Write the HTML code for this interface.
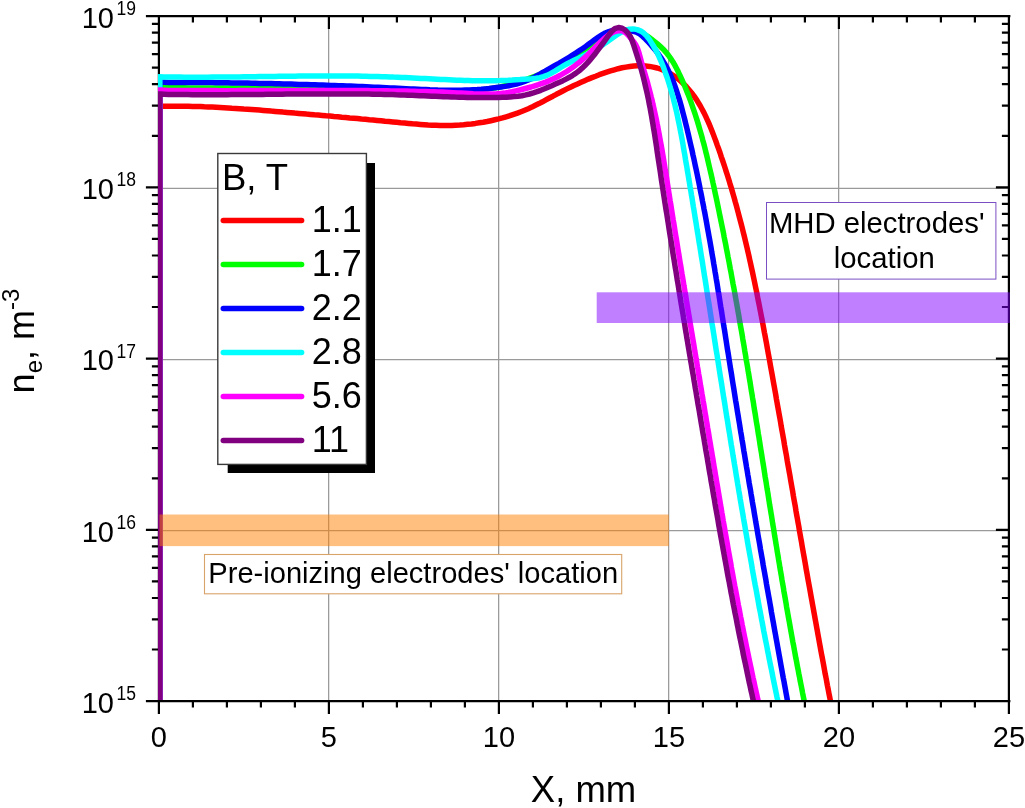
<!DOCTYPE html><html><head><meta charset="utf-8"><style>html,body{margin:0;padding:0;background:#fff;}svg{display:block;}text{font-family:"Liberation Sans",Arial,sans-serif;fill:#000;}</style></head><body>
<svg width="1025" height="808" viewBox="0 0 1025 808">
<rect width="1025" height="808" fill="#fff"/>
<path d="M328.65,16.1 V701.1 M498.65,16.1 V701.1 M668.65,16.1 V701.1 M838.65,16.1 V701.1 M158.9,188.30 H1008.9 M158.9,359.50 H1008.9 M158.9,530.50 H1008.9" stroke="#9a9a9a" stroke-width="1.25" fill="none"/>
<path d="M145.9,16.1 H1010.4 M157.9,701.1 H1010.4 M158.9,15.1 V714.1 M1008.9,15.1 V714.1 M158.9,701.1 V714.1 M158.9,16.1 V29.1 M192.9,701.1 V707.6 M192.9,16.1 V22.6 M226.9,701.1 V707.6 M226.9,16.1 V22.6 M260.9,701.1 V707.6 M260.9,16.1 V22.6 M294.9,701.1 V707.6 M294.9,16.1 V22.6 M328.9,701.1 V714.1 M328.9,16.1 V29.1 M362.9,701.1 V707.6 M362.9,16.1 V22.6 M396.9,701.1 V707.6 M396.9,16.1 V22.6 M430.9,701.1 V707.6 M430.9,16.1 V22.6 M464.9,701.1 V707.6 M464.9,16.1 V22.6 M498.9,701.1 V714.1 M498.9,16.1 V29.1 M532.9,701.1 V707.6 M532.9,16.1 V22.6 M566.9,701.1 V707.6 M566.9,16.1 V22.6 M600.9,701.1 V707.6 M600.9,16.1 V22.6 M634.9,701.1 V707.6 M634.9,16.1 V22.6 M668.9,701.1 V714.1 M668.9,16.1 V29.1 M702.9,701.1 V707.6 M702.9,16.1 V22.6 M736.9,701.1 V707.6 M736.9,16.1 V22.6 M770.9,701.1 V707.6 M770.9,16.1 V22.6 M804.9,701.1 V707.6 M804.9,16.1 V22.6 M838.9,701.1 V714.1 M838.9,16.1 V29.1 M872.9,701.1 V707.6 M872.9,16.1 V22.6 M906.9,701.1 V707.6 M906.9,16.1 V22.6 M940.9,701.1 V707.6 M940.9,16.1 V22.6 M974.9,701.1 V707.6 M974.9,16.1 V22.6 M1008.9,701.1 V714.1 M1008.9,16.1 V29.1 M158.9,701.1 H145.9 M1008.9,701.1 H995.9 M158.9,649.5 H151.9 M1008.9,649.5 H1001.9 M158.9,619.4 H151.9 M1008.9,619.4 H1001.9 M158.9,598.0 H151.9 M1008.9,598.0 H1001.9 M158.9,581.4 H151.9 M1008.9,581.4 H1001.9 M158.9,567.8 H151.9 M1008.9,567.8 H1001.9 M158.9,556.4 H151.9 M1008.9,556.4 H1001.9 M158.9,546.4 H151.9 M1008.9,546.4 H1001.9 M158.9,537.7 H151.9 M1008.9,537.7 H1001.9 M158.9,529.9 H145.9 M1008.9,529.9 H995.9 M158.9,478.3 H151.9 M1008.9,478.3 H1001.9 M158.9,448.1 H151.9 M1008.9,448.1 H1001.9 M158.9,426.7 H151.9 M1008.9,426.7 H1001.9 M158.9,410.2 H151.9 M1008.9,410.2 H1001.9 M158.9,396.6 H151.9 M1008.9,396.6 H1001.9 M158.9,385.1 H151.9 M1008.9,385.1 H1001.9 M158.9,375.2 H151.9 M1008.9,375.2 H1001.9 M158.9,366.4 H151.9 M1008.9,366.4 H1001.9 M158.9,358.6 H145.9 M1008.9,358.6 H995.9 M158.9,307.0 H151.9 M1008.9,307.0 H1001.9 M158.9,276.9 H151.9 M1008.9,276.9 H1001.9 M158.9,255.5 H151.9 M1008.9,255.5 H1001.9 M158.9,238.9 H151.9 M1008.9,238.9 H1001.9 M158.9,225.3 H151.9 M1008.9,225.3 H1001.9 M158.9,213.9 H151.9 M1008.9,213.9 H1001.9 M158.9,203.9 H151.9 M1008.9,203.9 H1001.9 M158.9,195.2 H151.9 M1008.9,195.2 H1001.9 M158.9,187.3 H145.9 M1008.9,187.3 H995.9 M158.9,135.8 H151.9 M1008.9,135.8 H1001.9 M158.9,105.6 H151.9 M1008.9,105.6 H1001.9 M158.9,84.2 H151.9 M1008.9,84.2 H1001.9 M158.9,67.7 H151.9 M1008.9,67.7 H1001.9 M158.9,54.1 H151.9 M1008.9,54.1 H1001.9 M158.9,42.6 H151.9 M1008.9,42.6 H1001.9 M158.9,32.7 H151.9 M1008.9,32.7 H1001.9 M158.9,23.9 H151.9 M1008.9,23.9 H1001.9" stroke="#000" stroke-width="2.2" fill="none"/>
<defs><clipPath id="pc"><rect x="150" y="16.1" width="858.9" height="684.0"/></clipPath></defs>
<g fill="none" stroke-width="5.5" stroke-linejoin="round" stroke-linecap="butt" clip-path="url(#pc)">
<path d="M160.3,705 V103.5" stroke="#ff0000" stroke-width="4.6"/>
<path d="M158.0,106.3 L161.0,106.3 164.9,106.2 168.9,106.2 172.8,106.2 176.8,106.2 180.7,106.2 184.6,106.3 188.6,106.3 192.5,106.4 196.5,106.5 200.4,106.6 204.3,106.8 208.3,106.9 212.2,107.1 216.1,107.3 220.1,107.5 224.0,107.7 227.9,107.9 231.9,108.2 235.8,108.4 239.7,108.7 243.7,109.0 247.6,109.2 251.5,109.5 255.5,109.8 259.4,110.1 263.3,110.4 267.2,110.7 271.2,111.1 275.1,111.4 279.0,111.7 283.0,112.1 286.9,112.4 290.8,112.7 294.7,113.1 298.7,113.4 302.6,113.7 306.5,114.1 310.4,114.4 314.3,114.8 318.3,115.1 322.2,115.4 326.1,115.8 330.0,116.1 334.0,116.5 337.9,116.8 341.8,117.2 345.7,117.5 349.7,117.9 353.6,118.2 357.5,118.6 361.4,119.0 365.3,119.3 369.3,119.7 373.2,120.0 377.1,120.4 381.0,120.8 385.0,121.2 388.9,121.5 392.8,121.9 396.7,122.3 400.6,122.7 404.6,123.0 408.5,123.4 412.4,123.8 416.3,124.1 420.3,124.4 424.2,124.7 428.1,125.0 432.1,125.2 436.0,125.3 440.0,125.4 443.9,125.5 447.9,125.5 451.8,125.4 455.7,125.2 459.7,125.0 463.6,124.7 467.6,124.3 471.5,123.9 475.4,123.4 479.3,122.8 483.2,122.2 487.1,121.5 490.9,120.7 494.8,119.8 498.6,118.9 502.4,117.9 506.2,116.8 509.9,115.7 513.7,114.4 517.4,113.1 521.0,111.7 524.7,110.2 528.3,108.7 531.9,107.1 535.4,105.3 539.0,103.6 542.5,101.8 545.9,99.9 549.4,98.0 552.9,96.2 556.4,94.3 559.9,92.5 563.3,90.7 566.9,88.9 570.4,87.2 573.9,85.5 577.5,83.9 581.1,82.3 584.7,80.7 588.3,79.1 591.9,77.6 595.6,76.2 599.3,74.7 603.0,73.4 606.7,72.1 610.5,70.9 614.3,69.8 618.2,68.7 622.0,67.8 625.9,67.1 629.8,66.5 633.8,66.0 637.7,65.8 641.7,65.8 645.6,66.0 649.5,66.4 653.3,67.1 657.1,68.0 660.9,69.2 664.5,70.6 668.0,72.3 671.4,74.2 674.6,76.3 677.8,78.7 680.8,81.2 683.7,83.9 686.4,86.7 689.0,89.7 691.5,92.7 693.9,95.9 696.1,99.1 698.2,102.4 700.2,105.7 702.1,109.2 703.9,112.6 705.6,116.2 707.3,119.8 708.9,123.4 710.4,127.0 711.9,130.7 713.3,134.4 714.7,138.1 716.1,141.8 717.4,145.6 718.8,149.3 720.1,153.0 721.3,156.8 722.6,160.5 723.9,164.3 725.1,168.0 726.3,171.8 727.5,175.5 728.7,179.3 729.8,183.1 731.0,186.9 732.1,190.6 733.2,194.4 734.3,198.2 735.3,202.0 736.4,205.8 737.4,209.6 738.4,213.4 739.4,217.2 740.4,221.0 741.4,224.8 742.4,228.6 743.3,232.4 744.3,236.3 745.2,240.1 746.1,243.9 747.0,247.7 747.9,251.6 748.8,255.4 749.6,259.2 750.5,263.1 751.3,266.9 752.2,270.8 753.0,274.6 753.8,278.5 754.6,282.3 755.4,286.2 756.2,290.0 757.0,293.9 757.7,297.7 758.5,301.6 759.3,305.5 760.0,309.3 760.8,313.2 761.5,317.0 762.3,320.9 763.0,324.8 763.7,328.6 764.4,332.5 765.2,336.4 765.9,340.3 766.6,344.1 767.3,348.0 768.0,351.9 768.7,355.8 769.4,359.6 770.1,363.5 770.8,367.4 771.5,371.3 772.2,375.1 772.9,379.0 773.6,382.9 774.3,386.8 775.0,390.7 775.7,394.5 776.3,398.4 777.0,402.3 777.7,406.2 778.4,410.1 779.1,413.9 779.8,417.8 780.5,421.7 781.1,425.6 781.8,429.5 782.5,433.3 783.2,437.2 783.9,441.1 784.5,445.0 785.2,448.9 785.9,452.8 786.6,456.6 787.2,460.5 787.9,464.4 788.6,468.3 789.3,472.2 790.0,476.1 790.6,479.9 791.3,483.8 792.0,487.7 792.7,491.6 793.3,495.5 794.0,499.4 794.7,503.2 795.4,507.1 796.0,511.0 796.7,514.9 797.4,518.8 798.1,522.7 798.8,526.5 799.4,530.4 800.1,534.3 800.8,538.2 801.5,542.1 802.1,545.9 802.8,549.8 803.5,553.7 804.2,557.6 804.9,561.5 805.6,565.4 806.2,569.2 806.9,573.1 807.6,577.0 808.3,580.9 809.0,584.8 809.7,588.6 810.4,592.5 811.1,596.4 811.8,600.3 812.5,604.2 813.2,608.0 813.9,611.9 814.6,615.8 815.3,619.7 816.0,623.5 816.7,627.4 817.4,631.3 818.1,635.2 818.8,639.0 819.5,642.9 820.2,646.8 820.9,650.7 821.6,654.5 822.4,658.4 823.1,662.3 823.8,666.1 824.5,670.0 825.2,673.9 826.0,677.8 826.7,681.6 827.4,685.5 828.2,689.4 828.9,693.2 829.7,697.1 830.4,701.0" stroke="#ff0000"/>
<path d="M160.3,705 V84.7" stroke="#00ff00" stroke-width="4.6"/>
<path d="M158.0,87.4 L160.5,87.4 164.5,87.5 168.5,87.6 172.5,87.7 176.5,87.7 180.5,87.8 184.5,87.8 188.5,87.9 192.5,87.9 196.5,87.9 200.5,87.9 204.5,87.9 208.4,87.9 212.4,87.9 216.4,87.9 220.4,87.9 224.4,87.9 228.4,87.9 232.4,87.9 236.4,87.9 240.3,87.9 244.3,87.8 248.3,87.8 252.3,87.8 256.3,87.8 260.2,87.7 264.2,87.7 268.2,87.7 272.2,87.6 276.2,87.6 280.1,87.6 284.1,87.6 288.1,87.5 292.1,87.5 296.1,87.5 300.0,87.5 304.0,87.5 308.0,87.5 312.0,87.5 316.0,87.5 319.9,87.5 323.9,87.5 327.9,87.5 331.9,87.5 335.9,87.6 339.9,87.6 343.8,87.7 347.8,87.7 351.8,87.8 355.8,87.8 359.8,87.9 363.8,88.0 367.8,88.1 371.8,88.2 375.8,88.3 379.8,88.4 383.8,88.5 387.8,88.7 391.8,88.8 395.8,89.0 399.8,89.2 403.8,89.4 407.8,89.6 411.8,89.8 415.8,90.0 419.8,90.2 423.8,90.4 427.8,90.6 431.8,90.7 435.8,90.9 439.8,91.0 443.8,91.1 447.8,91.1 451.8,91.2 455.8,91.1 459.8,91.1 463.8,91.0 467.7,90.8 471.7,90.6 475.6,90.3 479.6,89.9 483.5,89.5 487.4,89.0 491.4,88.4 495.3,87.8 499.2,87.1 503.0,86.2 506.9,85.3 510.8,84.3 514.6,83.2 518.5,82.0 522.3,80.8 526.1,79.5 529.9,78.1 533.6,76.7 537.4,75.3 541.1,73.8 544.9,72.4 548.5,70.8 552.2,69.2 555.8,67.6 559.4,65.9 562.9,64.0 566.4,62.1 569.7,60.0 573.1,57.8 576.4,55.6 579.6,53.3 582.8,50.9 586.1,48.5 589.3,46.1 592.6,43.8 595.9,41.5 599.2,39.4 602.6,37.3 606.1,35.5 609.7,33.9 613.4,32.5 617.3,31.5 621.2,30.7 625.3,30.4 629.3,30.4 633.3,30.7 637.2,31.5 640.9,32.7 644.5,34.4 647.9,36.5 651.2,38.9 654.3,41.3 657.4,43.8 660.4,46.5 663.2,49.2 665.8,52.1 668.3,55.2 670.6,58.4 672.8,61.7 674.8,65.2 676.7,68.7 678.5,72.3 680.2,75.9 681.9,79.6 683.5,83.3 685.1,86.9 686.6,90.7 688.1,94.4 689.5,98.1 690.9,101.9 692.2,105.6 693.5,109.4 694.8,113.2 696.0,116.9 697.2,120.7 698.4,124.6 699.5,128.4 700.6,132.2 701.7,136.0 702.7,139.9 703.8,143.7 704.8,147.6 705.7,151.5 706.7,155.3 707.6,159.2 708.5,163.1 709.4,167.0 710.3,170.8 711.2,174.7 712.1,178.6 712.9,182.5 713.8,186.4 714.6,190.3 715.4,194.2 716.3,198.1 717.1,202.0 717.9,205.9 718.7,209.8 719.5,213.7 720.3,217.6 721.1,221.6 721.9,225.5 722.7,229.4 723.5,233.3 724.2,237.2 725.0,241.1 725.8,245.0 726.5,248.9 727.3,252.9 728.0,256.8 728.8,260.7 729.5,264.6 730.2,268.5 731.0,272.4 731.7,276.4 732.4,280.3 733.1,284.2 733.9,288.1 734.6,292.1 735.3,296.0 736.0,299.9 736.7,303.8 737.4,307.8 738.1,311.7 738.8,315.6 739.4,319.5 740.1,323.5 740.8,327.4 741.5,331.3 742.2,335.3 742.8,339.2 743.5,343.1 744.2,347.1 744.8,351.0 745.5,354.9 746.1,358.9 746.8,362.8 747.5,366.7 748.1,370.7 748.8,374.6 749.4,378.5 750.1,382.5 750.7,386.4 751.3,390.3 752.0,394.3 752.6,398.2 753.3,402.1 753.9,406.1 754.5,410.0 755.2,414.0 755.8,417.9 756.4,421.8 757.1,425.8 757.7,429.7 758.3,433.7 759.0,437.6 759.6,441.5 760.2,445.5 760.8,449.4 761.5,453.4 762.1,457.3 762.7,461.2 763.4,465.2 764.0,469.1 764.6,473.1 765.2,477.0 765.9,480.9 766.5,484.9 767.1,488.8 767.8,492.7 768.4,496.7 769.0,500.6 769.6,504.6 770.3,508.5 770.9,512.4 771.6,516.4 772.2,520.3 772.8,524.3 773.5,528.2 774.1,532.1 774.7,536.1 775.4,540.0 776.0,543.9 776.7,547.9 777.3,551.8 778.0,555.8 778.6,559.7 779.3,563.6 779.9,567.6 780.6,571.5 781.3,575.4 781.9,579.4 782.6,583.3 783.3,587.2 783.9,591.2 784.6,595.1 785.3,599.0 786.0,602.9 786.6,606.9 787.3,610.8 788.0,614.7 788.7,618.7 789.4,622.6 790.1,626.5 790.8,630.4 791.5,634.4 792.2,638.3 792.9,642.2 793.7,646.1 794.4,650.1 795.1,654.0 795.8,657.9 796.6,661.8 797.3,665.7 798.1,669.7 798.8,673.6 799.6,677.5 800.3,681.4 801.1,685.3 801.9,689.2 802.6,693.1 803.4,697.0 804.2,701.0" stroke="#00ff00"/>
<path d="M160.3,705 V79.6" stroke="#0000ff" stroke-width="4.6"/>
<path d="M158.0,82.3 L160.5,82.3 164.5,82.3 168.4,82.4 172.4,82.4 176.4,82.4 180.3,82.4 184.3,82.4 188.3,82.4 192.2,82.4 196.2,82.5 200.1,82.5 204.1,82.5 208.1,82.6 212.0,82.6 216.0,82.7 220.0,82.7 223.9,82.8 227.9,82.8 231.8,82.9 235.8,82.9 239.7,83.0 243.7,83.1 247.7,83.1 251.6,83.2 255.6,83.3 259.5,83.4 263.5,83.5 267.5,83.5 271.4,83.6 275.4,83.7 279.3,83.8 283.3,83.9 287.2,84.0 291.2,84.1 295.1,84.2 299.1,84.4 303.1,84.5 307.0,84.6 311.0,84.7 314.9,84.8 318.9,85.0 322.8,85.1 326.8,85.2 330.8,85.4 334.7,85.5 338.7,85.7 342.6,85.8 346.6,86.0 350.5,86.1 354.5,86.3 358.5,86.5 362.4,86.6 366.4,86.8 370.3,87.0 374.3,87.2 378.3,87.3 382.2,87.5 386.2,87.7 390.2,87.9 394.1,88.1 398.1,88.3 402.1,88.5 406.0,88.7 410.0,88.9 413.9,89.1 417.9,89.3 421.9,89.5 425.8,89.6 429.8,89.8 433.8,89.9 437.7,90.1 441.7,90.2 445.7,90.2 449.6,90.3 453.6,90.3 457.5,90.3 461.5,90.2 465.4,90.1 469.4,90.0 473.3,89.8 477.3,89.6 481.2,89.3 485.1,88.9 489.1,88.6 493.0,88.1 496.9,87.6 500.9,87.0 504.8,86.4 508.7,85.7 512.6,84.9 516.4,84.0 520.3,82.9 524.0,81.7 527.7,80.3 531.3,78.7 534.8,76.9 538.3,75.0 541.7,73.0 545.2,71.1 548.6,69.1 552.0,67.2 555.5,65.2 558.9,63.3 562.3,61.3 565.7,59.3 569.1,57.3 572.5,55.2 575.8,53.1 579.1,50.9 582.4,48.7 585.7,46.4 588.9,44.0 592.1,41.6 595.3,39.2 598.5,37.0 601.9,34.9 605.3,33.0 608.9,31.5 612.7,30.3 616.6,29.7 620.6,29.5 624.5,29.9 628.4,30.5 632.4,31.0 636.2,32.0 639.6,33.9 642.7,36.4 645.5,39.1 648.2,42.0 650.9,44.9 653.5,48.0 656.1,51.1 658.5,54.2 660.8,57.5 662.9,60.8 664.9,64.2 666.8,67.6 668.6,71.1 670.3,74.7 671.9,78.3 673.4,81.9 674.8,85.6 676.1,89.3 677.3,93.0 678.5,96.8 679.7,100.6 680.8,104.4 681.8,108.2 682.8,112.1 683.8,115.9 684.8,119.8 685.7,123.6 686.7,127.5 687.6,131.4 688.5,135.2 689.4,139.1 690.3,143.0 691.2,146.8 692.1,150.7 692.9,154.6 693.8,158.5 694.6,162.3 695.4,166.2 696.3,170.1 697.1,174.0 697.9,177.9 698.7,181.7 699.5,185.6 700.2,189.5 701.0,193.4 701.8,197.3 702.5,201.2 703.3,205.1 704.0,209.0 704.8,212.9 705.5,216.7 706.2,220.6 706.9,224.5 707.6,228.4 708.3,232.3 709.0,236.2 709.7,240.1 710.4,244.0 711.1,247.9 711.7,251.8 712.4,255.7 713.1,259.6 713.7,263.5 714.4,267.4 715.0,271.4 715.7,275.3 716.3,279.2 717.0,283.1 717.6,287.0 718.2,290.9 718.9,294.8 719.5,298.7 720.1,302.6 720.7,306.5 721.4,310.4 722.0,314.3 722.6,318.3 723.2,322.2 723.8,326.1 724.5,330.0 725.1,333.9 725.7,337.8 726.3,341.7 726.9,345.6 727.5,349.5 728.2,353.5 728.8,357.4 729.4,361.3 730.0,365.2 730.6,369.1 731.3,373.0 731.9,376.9 732.5,380.8 733.1,384.7 733.8,388.7 734.4,392.6 735.0,396.5 735.6,400.4 736.3,404.3 736.9,408.2 737.5,412.1 738.2,416.0 738.8,419.9 739.5,423.9 740.1,427.8 740.7,431.7 741.4,435.6 742.0,439.5 742.7,443.4 743.3,447.3 743.9,451.2 744.6,455.1 745.2,459.0 745.9,463.0 746.5,466.9 747.2,470.8 747.8,474.7 748.5,478.6 749.1,482.5 749.8,486.4 750.5,490.3 751.1,494.2 751.8,498.1 752.4,502.0 753.1,505.9 753.8,509.8 754.4,513.8 755.1,517.7 755.7,521.6 756.4,525.5 757.1,529.4 757.7,533.3 758.4,537.2 759.1,541.1 759.8,545.0 760.4,548.9 761.1,552.8 761.8,556.7 762.5,560.6 763.1,564.5 763.8,568.4 764.5,572.3 765.2,576.2 765.9,580.1 766.5,584.0 767.2,587.9 767.9,591.8 768.6,595.7 769.3,599.6 770.0,603.6 770.7,607.5 771.3,611.4 772.0,615.3 772.7,619.2 773.4,623.1 774.1,627.0 774.8,630.9 775.5,634.8 776.2,638.7 776.9,642.5 777.6,646.4 778.3,650.3 779.0,654.2 779.7,658.1 780.4,662.0 781.1,665.9 781.8,669.8 782.5,673.7 783.2,677.6 784.0,681.5 784.7,685.4 785.4,689.3 786.1,693.2 786.8,697.1 787.5,701.0" stroke="#0000ff"/>
<path d="M160.3,705 V74.2" stroke="#00ffff" stroke-width="4.6"/>
<path d="M158.0,76.9 L160.5,76.9 164.5,77.0 168.4,77.0 172.4,77.1 176.3,77.1 180.3,77.1 184.2,77.2 188.2,77.2 192.1,77.2 196.1,77.2 200.0,77.2 204.0,77.2 207.9,77.2 211.9,77.1 215.8,77.1 219.8,77.1 223.7,77.0 227.7,77.0 231.6,77.0 235.6,76.9 239.5,76.9 243.5,76.8 247.4,76.8 251.4,76.7 255.3,76.7 259.3,76.6 263.2,76.6 267.2,76.5 271.1,76.5 275.1,76.4 279.0,76.3 283.0,76.3 286.9,76.3 290.9,76.2 294.8,76.2 298.8,76.1 302.7,76.1 306.7,76.1 310.6,76.0 314.6,76.0 318.6,76.0 322.5,76.0 326.5,76.0 330.4,76.0 334.4,76.0 338.3,76.0 342.3,76.0 346.2,76.0 350.2,76.1 354.1,76.1 358.1,76.1 362.0,76.2 366.0,76.3 369.9,76.4 373.9,76.4 377.8,76.5 381.8,76.7 385.7,76.8 389.7,76.9 393.6,77.1 397.5,77.2 401.5,77.4 405.4,77.6 409.4,77.8 413.3,78.0 417.3,78.2 421.2,78.4 425.2,78.6 429.1,78.8 433.1,79.0 437.0,79.2 441.0,79.4 444.9,79.6 448.9,79.8 452.8,80.0 456.7,80.2 460.7,80.3 464.6,80.5 468.6,80.6 472.5,80.7 476.5,80.7 480.4,80.8 484.4,80.8 488.3,80.8 492.3,80.8 496.2,80.7 500.2,80.6 504.1,80.4 508.1,80.3 512.0,80.1 516.0,79.8 519.9,79.6 523.9,79.3 527.9,79.0 531.8,78.7 535.8,78.3 539.7,77.7 543.4,76.7 547.0,75.4 550.5,73.6 554.0,71.7 557.3,69.6 560.7,67.5 564.2,65.4 567.7,63.5 571.2,61.8 574.7,60.0 578.3,58.4 581.9,56.7 585.4,54.9 588.9,53.2 592.4,51.3 595.8,49.3 599.2,47.2 602.5,45.0 605.7,42.8 608.8,40.5 612.0,38.2 615.2,36.0 618.5,33.8 622.0,31.9 625.7,30.2 629.5,29.2 633.4,28.9 637.2,29.6 640.9,31.1 644.0,33.3 646.8,36.2 649.3,39.4 651.5,42.9 653.6,46.3 655.5,49.7 657.4,53.1 659.0,56.7 660.6,60.3 662.1,63.9 663.6,67.6 664.9,71.3 666.2,75.0 667.5,78.7 668.7,82.5 669.9,86.3 671.0,90.0 672.0,93.8 673.1,97.6 674.0,101.4 675.0,105.3 675.9,109.1 676.8,112.9 677.6,116.8 678.4,120.7 679.2,124.5 680.0,128.4 680.7,132.3 681.5,136.2 682.2,140.1 682.9,143.9 683.5,147.8 684.2,151.7 684.9,155.6 685.5,159.5 686.2,163.4 686.9,167.4 687.5,171.3 688.2,175.2 688.8,179.1 689.5,183.0 690.1,186.9 690.8,190.8 691.4,194.7 692.1,198.6 692.7,202.5 693.3,206.4 694.0,210.3 694.6,214.2 695.2,218.1 695.9,222.0 696.5,225.9 697.1,229.8 697.8,233.7 698.4,237.6 699.0,241.5 699.7,245.4 700.3,249.3 700.9,253.2 701.5,257.1 702.2,261.0 702.8,264.9 703.4,268.8 704.0,272.7 704.6,276.6 705.3,280.5 705.9,284.5 706.5,288.4 707.1,292.3 707.7,296.2 708.3,300.1 709.0,304.0 709.6,307.9 710.2,311.8 710.8,315.7 711.4,319.6 712.0,323.5 712.7,327.4 713.3,331.3 713.9,335.2 714.5,339.1 715.1,343.0 715.7,346.9 716.3,350.8 717.0,354.7 717.6,358.6 718.2,362.5 718.8,366.4 719.4,370.3 720.0,374.2 720.6,378.1 721.3,382.0 721.9,385.9 722.5,389.8 723.1,393.7 723.7,397.6 724.4,401.5 725.0,405.4 725.6,409.3 726.2,413.2 726.8,417.1 727.5,421.0 728.1,424.9 728.7,428.8 729.4,432.7 730.0,436.6 730.6,440.5 731.2,444.4 731.9,448.3 732.5,452.2 733.1,456.1 733.8,460.0 734.4,463.9 735.1,467.8 735.7,471.7 736.3,475.6 737.0,479.5 737.6,483.4 738.3,487.3 738.9,491.2 739.6,495.1 740.2,499.0 740.9,502.9 741.5,506.8 742.2,510.6 742.9,514.5 743.5,518.4 744.2,522.3 744.9,526.2 745.5,530.1 746.2,534.0 746.9,537.9 747.5,541.8 748.2,545.7 748.9,549.6 749.6,553.5 750.3,557.3 751.0,561.2 751.7,565.1 752.3,569.0 753.0,572.9 753.7,576.8 754.4,580.7 755.1,584.6 755.9,588.5 756.6,592.3 757.3,596.2 758.0,600.1 758.7,604.0 759.4,607.9 760.2,611.8 760.9,615.6 761.6,619.5 762.4,623.4 763.1,627.3 763.8,631.2 764.6,635.1 765.3,638.9 766.1,642.8 766.9,646.7 767.6,650.6 768.4,654.5 769.1,658.3 769.9,662.2 770.7,666.1 771.5,670.0 772.3,673.9 773.0,677.7 773.8,681.6 774.6,685.5 775.4,689.4 776.2,693.2 777.0,697.1 777.9,701.0" stroke="#00ffff"/>
<path d="M160.3,705 V87.5" stroke="#ff00ff" stroke-width="4.6"/>
<path d="M158.0,90.3 L160.5,90.3 164.4,90.3 168.3,90.4 172.2,90.4 176.1,90.5 180.0,90.5 183.9,90.5 187.8,90.6 191.8,90.6 195.7,90.6 199.6,90.6 203.5,90.6 207.4,90.6 211.3,90.6 215.2,90.6 219.1,90.7 223.0,90.7 226.9,90.7 230.8,90.7 234.7,90.7 238.7,90.6 242.6,90.6 246.5,90.6 250.4,90.6 254.3,90.6 258.2,90.6 262.1,90.6 266.0,90.6 269.9,90.6 273.8,90.6 277.7,90.5 281.7,90.5 285.6,90.5 289.5,90.5 293.4,90.5 297.3,90.5 301.2,90.5 305.1,90.5 309.0,90.5 312.9,90.5 316.8,90.5 320.7,90.5 324.7,90.5 328.6,90.5 332.5,90.5 336.4,90.5 340.3,90.5 344.2,90.5 348.1,90.5 352.0,90.5 355.9,90.5 359.8,90.6 363.7,90.6 367.6,90.6 371.5,90.7 375.4,90.7 379.4,90.7 383.3,90.8 387.2,90.8 391.1,90.9 395.0,90.9 398.9,91.0 402.8,91.1 406.7,91.1 410.6,91.2 414.5,91.3 418.4,91.4 422.3,91.5 426.2,91.6 430.1,91.7 434.0,91.8 437.9,92.0 441.8,92.1 445.7,92.3 449.7,92.5 453.6,92.7 457.5,92.9 461.4,93.1 465.3,93.3 469.2,93.5 473.1,93.8 477.1,93.9 481.0,94.1 484.9,94.1 488.8,94.1 492.7,94.0 496.6,93.8 500.4,93.5 504.3,93.1 508.2,92.5 512.0,91.8 515.9,90.9 519.7,90.0 523.5,89.0 527.3,88.0 531.0,87.0 534.8,85.8 538.5,84.7 542.1,83.4 545.8,82.1 549.4,80.6 552.9,79.0 556.5,77.3 559.9,75.5 563.3,73.5 566.7,71.5 570.0,69.3 573.2,67.1 576.3,64.7 579.3,62.3 582.3,59.7 585.2,57.1 588.0,54.4 590.8,51.7 593.6,48.9 596.3,46.1 599.0,43.4 601.8,40.7 604.7,38.1 607.8,35.6 611.1,33.4 614.7,31.6 618.4,30.5 622.1,30.7 625.4,32.5 628.3,35.3 630.9,38.4 633.4,41.4 635.6,44.6 637.3,48.0 638.6,51.6 639.7,55.4 640.7,59.2 641.7,63.1 642.8,66.8 644.0,70.6 645.1,74.3 646.2,78.1 647.3,81.8 648.3,85.6 649.3,89.4 650.3,93.1 651.2,96.9 652.2,100.7 653.0,104.5 653.9,108.3 654.7,112.1 655.6,116.0 656.4,119.8 657.1,123.6 657.9,127.4 658.6,131.3 659.3,135.1 660.0,138.9 660.7,142.8 661.4,146.6 662.1,150.5 662.7,154.3 663.4,158.2 664.0,162.1 664.6,165.9 665.2,169.8 665.9,173.6 666.5,177.5 667.1,181.4 667.7,185.2 668.3,189.1 668.9,193.0 669.5,196.8 670.1,200.7 670.8,204.5 671.4,208.4 672.0,212.3 672.6,216.1 673.2,220.0 673.9,223.8 674.5,227.7 675.1,231.6 675.7,235.4 676.4,239.3 677.0,243.1 677.6,247.0 678.2,250.8 678.9,254.7 679.5,258.6 680.1,262.4 680.8,266.3 681.4,270.1 682.0,274.0 682.7,277.8 683.3,281.7 683.9,285.6 684.6,289.4 685.2,293.3 685.9,297.1 686.5,301.0 687.1,304.8 687.8,308.7 688.4,312.5 689.1,316.4 689.7,320.2 690.3,324.1 691.0,328.0 691.6,331.8 692.3,335.7 692.9,339.5 693.6,343.4 694.2,347.2 694.8,351.1 695.5,354.9 696.1,358.8 696.8,362.6 697.4,366.5 698.1,370.3 698.7,374.2 699.4,378.1 700.0,381.9 700.6,385.8 701.3,389.6 701.9,393.5 702.6,397.3 703.2,401.2 703.9,405.0 704.5,408.9 705.1,412.7 705.8,416.6 706.4,420.4 707.1,424.3 707.7,428.2 708.4,432.0 709.0,435.9 709.6,439.7 710.3,443.6 710.9,447.4 711.6,451.3 712.2,455.1 712.9,459.0 713.5,462.9 714.1,466.7 714.8,470.6 715.4,474.4 716.1,478.3 716.7,482.1 717.4,486.0 718.0,489.8 718.7,493.7 719.3,497.5 720.0,501.4 720.6,505.3 721.3,509.1 721.9,513.0 722.6,516.8 723.2,520.7 723.9,524.5 724.6,528.4 725.2,532.2 725.9,536.1 726.6,539.9 727.3,543.8 727.9,547.6 728.6,551.5 729.3,555.3 730.0,559.2 730.7,563.0 731.3,566.9 732.0,570.7 732.7,574.6 733.4,578.4 734.1,582.2 734.8,586.1 735.6,589.9 736.3,593.8 737.0,597.6 737.7,601.5 738.4,605.3 739.2,609.1 739.9,613.0 740.6,616.8 741.4,620.6 742.1,624.5 742.9,628.3 743.6,632.1 744.4,636.0 745.2,639.8 745.9,643.6 746.7,647.5 747.5,651.3 748.3,655.1 749.1,659.0 749.9,662.8 750.7,666.6 751.5,670.4 752.3,674.2 753.1,678.1 754.0,681.9 754.8,685.7 755.6,689.5 756.5,693.3 757.3,697.1 758.2,701.0" stroke="#ff00ff"/>
<path d="M160.3,705 V91.5" stroke="#800080" stroke-width="4.6"/>
<path d="M158.0,94.2 L160.5,94.2 164.4,94.3 168.4,94.4 172.3,94.5 176.2,94.5 180.2,94.6 184.1,94.6 188.0,94.6 192.0,94.7 195.9,94.7 199.8,94.7 203.7,94.7 207.7,94.7 211.6,94.7 215.5,94.7 219.5,94.7 223.4,94.7 227.3,94.7 231.3,94.6 235.2,94.6 239.1,94.6 243.1,94.6 247.0,94.5 250.9,94.5 254.8,94.5 258.8,94.4 262.7,94.4 266.6,94.3 270.6,94.3 274.5,94.3 278.4,94.2 282.4,94.2 286.3,94.1 290.2,94.1 294.1,94.1 298.1,94.0 302.0,94.0 305.9,94.0 309.9,94.0 313.8,93.9 317.7,93.9 321.7,93.9 325.6,93.9 329.5,93.9 333.4,93.9 337.4,93.9 341.3,93.9 345.2,93.9 349.2,93.9 353.1,94.0 357.0,94.0 361.0,94.0 364.9,94.1 368.8,94.1 372.8,94.2 376.7,94.3 380.6,94.3 384.5,94.4 388.5,94.5 392.4,94.6 396.3,94.8 400.3,94.9 404.2,95.0 408.1,95.2 412.1,95.3 416.0,95.5 419.9,95.7 423.9,95.8 427.8,96.0 431.7,96.2 435.7,96.3 439.6,96.5 443.5,96.7 447.4,96.8 451.4,96.9 455.3,97.1 459.2,97.2 463.2,97.3 467.1,97.4 471.0,97.5 474.9,97.5 478.9,97.6 482.8,97.6 486.7,97.6 490.6,97.6 494.6,97.5 498.5,97.4 502.4,97.3 506.3,97.2 510.2,96.9 514.1,96.6 518.0,96.2 521.9,95.7 525.7,94.9 529.5,94.0 533.3,92.9 537.0,91.7 540.8,90.3 544.5,88.8 548.1,87.2 551.8,85.7 555.4,84.1 559.0,82.5 562.5,80.9 566.0,79.1 569.4,77.3 572.7,75.3 576.0,73.1 579.1,70.8 582.1,68.2 584.9,65.5 587.7,62.6 590.3,59.6 592.9,56.5 595.4,53.4 597.8,50.2 600.1,47.1 602.4,44.0 604.7,40.9 607.0,37.7 609.2,34.5 611.7,31.3 614.8,28.7 618.5,27.5 622.2,28.2 625.5,30.3 628.3,33.3 630.4,36.7 632.0,40.3 633.3,44.0 634.5,47.7 635.7,51.5 636.9,55.2 638.1,59.0 639.3,62.7 640.4,66.5 641.5,70.3 642.5,74.1 643.5,77.9 644.4,81.7 645.3,85.5 646.2,89.3 647.1,93.2 647.9,97.0 648.7,100.8 649.4,104.7 650.2,108.5 650.9,112.4 651.6,116.3 652.2,120.1 652.9,124.0 653.5,127.9 654.2,131.8 654.8,135.7 655.4,139.6 656.0,143.4 656.6,147.3 657.1,151.2 657.7,155.1 658.3,159.0 658.9,162.9 659.5,166.8 660.1,170.7 660.7,174.6 661.2,178.4 661.8,182.3 662.4,186.2 663.0,190.1 663.6,194.0 664.2,197.9 664.8,201.8 665.4,205.7 666.0,209.5 666.7,213.4 667.3,217.3 667.9,221.2 668.5,225.1 669.1,229.0 669.7,232.8 670.3,236.7 671.0,240.6 671.6,244.5 672.2,248.4 672.8,252.2 673.4,256.1 674.1,260.0 674.7,263.9 675.3,267.8 676.0,271.6 676.6,275.5 677.2,279.4 677.9,283.3 678.5,287.2 679.1,291.0 679.8,294.9 680.4,298.8 681.0,302.7 681.7,306.6 682.3,310.4 683.0,314.3 683.6,318.2 684.3,322.1 684.9,325.9 685.5,329.8 686.2,333.7 686.8,337.6 687.5,341.4 688.1,345.3 688.8,349.2 689.4,353.1 690.1,356.9 690.7,360.8 691.4,364.7 692.0,368.6 692.7,372.5 693.4,376.3 694.0,380.2 694.7,384.1 695.3,388.0 696.0,391.8 696.6,395.7 697.3,399.6 697.9,403.5 698.6,407.3 699.3,411.2 699.9,415.1 700.6,419.0 701.2,422.8 701.9,426.7 702.5,430.6 703.2,434.5 703.9,438.3 704.5,442.2 705.2,446.1 705.8,450.0 706.5,453.8 707.2,457.7 707.8,461.6 708.5,465.5 709.1,469.3 709.8,473.2 710.5,477.1 711.1,481.0 711.8,484.8 712.5,488.7 713.1,492.6 713.8,496.5 714.5,500.3 715.1,504.2 715.8,508.1 716.5,512.0 717.2,515.8 717.9,519.7 718.5,523.6 719.2,527.4 719.9,531.3 720.6,535.2 721.3,539.1 722.0,542.9 722.7,546.8 723.4,550.7 724.1,554.5 724.8,558.4 725.5,562.3 726.2,566.1 726.9,570.0 727.6,573.9 728.3,577.7 729.1,581.6 729.8,585.5 730.5,589.3 731.2,593.2 732.0,597.0 732.7,600.9 733.4,604.8 734.2,608.6 734.9,612.5 735.7,616.3 736.5,620.2 737.2,624.1 738.0,627.9 738.7,631.8 739.5,635.6 740.3,639.5 741.1,643.3 741.9,647.2 742.7,651.0 743.4,654.9 744.2,658.7 745.1,662.6 745.9,666.4 746.7,670.3 747.5,674.1 748.3,677.9 749.1,681.8 750.0,685.6 750.8,689.5 751.7,693.3 752.5,697.1 753.4,701.0" stroke="#800080"/>
</g>
<rect x="596.7" y="292.3" width="413.2" height="30.7" fill="#8000ff" fill-opacity="0.5"/>
<rect x="159.5" y="514.5" width="509.4" height="31.6" fill="#ff8000" fill-opacity="0.5"/>
<text x="158.9" y="747" font-size="29" text-anchor="middle">0</text>
<text x="328.9" y="747" font-size="29" text-anchor="middle">5</text>
<text x="498.9" y="747" font-size="29" text-anchor="middle">10</text>
<text x="668.9" y="747" font-size="29" text-anchor="middle">15</text>
<text x="838.9" y="747" font-size="29" text-anchor="middle">20</text>
<text x="1008.9" y="747" font-size="29" text-anchor="middle">25</text>
<text x="113.9" y="712.7" font-size="29" text-anchor="end">10</text>
<text x="116.4" y="700.2" font-size="19.5" textLength="19.5" lengthAdjust="spacingAndGlyphs">15</text>
<text x="113.9" y="541.5" font-size="29" text-anchor="end">10</text>
<text x="116.4" y="529.0" font-size="19.5" textLength="19.5" lengthAdjust="spacingAndGlyphs">16</text>
<text x="113.9" y="370.2" font-size="29" text-anchor="end">10</text>
<text x="116.4" y="357.7" font-size="19.5" textLength="19.5" lengthAdjust="spacingAndGlyphs">17</text>
<text x="113.9" y="198.9" font-size="29" text-anchor="end">10</text>
<text x="116.4" y="186.4" font-size="19.5" textLength="19.5" lengthAdjust="spacingAndGlyphs">18</text>
<text x="113.9" y="27.7" font-size="29" text-anchor="end">10</text>
<text x="116.4" y="15.2" font-size="19.5" textLength="19.5" lengthAdjust="spacingAndGlyphs">19</text>
<text x="583.5" y="801.5" font-size="36.5" text-anchor="middle">X, mm</text>
<text transform="translate(34,393.4) rotate(-90)" font-size="36">n<tspan font-size="24" dy="8">e</tspan><tspan dy="-8">, m</tspan><tspan font-size="24" dy="-14.7">-3</tspan></text>
<rect x="227.7" y="163" width="147.3" height="310" fill="#000"/>
<rect x="217.8" y="153.5" width="148.6" height="310.9" fill="#fff" stroke="#3a3a3a" stroke-width="1.4"/>
<text x="221.9" y="189.7" font-size="36.5">B, T</text>
<path d="M223.3,220.4 H301.6" stroke="#ff0000" stroke-width="5.5" stroke-linecap="round"/>
<text x="311.7" y="232.3" font-size="36">1.1</text>
<path d="M223.3,264.4 H301.6" stroke="#00ff00" stroke-width="5.5" stroke-linecap="round"/>
<text x="311.7" y="276.3" font-size="36">1.7</text>
<path d="M223.3,308.4 H301.6" stroke="#0000ff" stroke-width="5.5" stroke-linecap="round"/>
<text x="311.7" y="320.3" font-size="36">2.2</text>
<path d="M223.3,352.4 H301.6" stroke="#00ffff" stroke-width="5.5" stroke-linecap="round"/>
<text x="311.7" y="364.3" font-size="36">2.8</text>
<path d="M223.3,396.4 H301.6" stroke="#ff00ff" stroke-width="5.5" stroke-linecap="round"/>
<text x="311.7" y="408.3" font-size="36">5.6</text>
<path d="M223.3,440.4 H301.6" stroke="#800080" stroke-width="5.5" stroke-linecap="round"/>
<text x="311.7" y="452.3" font-size="36">11</text>
<rect x="766.5" y="202.5" width="229.4" height="76.6" fill="#fff" stroke="#7a4fc4" stroke-width="1"/>
<text x="876.7" y="232.7" font-size="29.3" text-anchor="middle">MHD electrodes'</text>
<text x="884.3" y="268.2" font-size="29.3" text-anchor="middle">location</text>
<rect x="204.5" y="554.5" width="417.2" height="39.3" fill="#fff" stroke="#d9a46a" stroke-width="1.1"/>
<text x="208.3" y="582.7" font-size="29.1">Pre-ionizing electrodes' location</text>
</svg></body></html>
